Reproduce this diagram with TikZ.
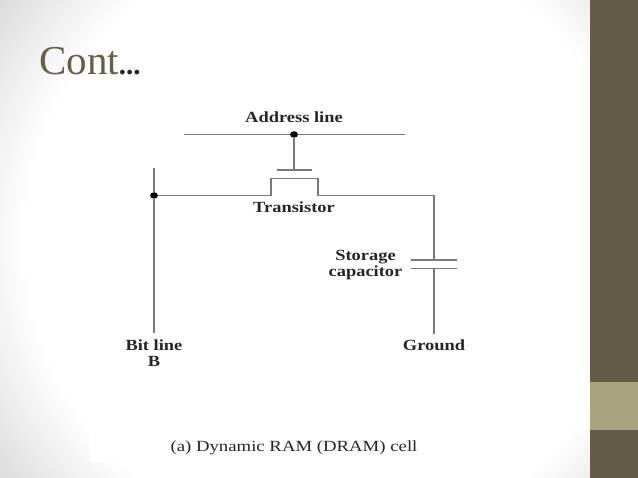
\documentclass[tikz,border=0pt]{standalone}
\usepackage{fontspec}
\setmainfont{Liberation Serif}
\usetikzlibrary{shapes.geometric}
\newfontfamily\labfont[FakeStretch=1.19,BoldFont={Liberation Serif Bold}]{Liberation Serif}
\newfontfamily\capfont[FakeStretch=1.21]{Liberation Serif}
\definecolor{panel}{HTML}{645C48}
\definecolor{band}{HTML}{A8A480}
\definecolor{wire}{HTML}{7A7A7A}
\definecolor{titlec}{HTML}{665F4D}
\definecolor{labelc}{HTML}{262626}
\pgfdeclareradialshading{slidebg}{\pgfpoint{0bp}{0bp}}{color(0bp)=(white); color(15.25bp)=(white); color(20.4bp)=(black!14); color(25bp)=(black!18); color(50bp)=(black!18)}
\tikzset{
  x=1pt,y=-1pt,
  conn/.style={draw=wire,line width=1.35pt},
  lab/.style={font=\labfont\fontsize{15.5}{17}\selectfont\bfseries,text=labelc,inner sep=0pt,anchor=center},
  junction/.style={ellipse,fill=black,inner sep=0pt,minimum width=8pt,minimum height=6.5pt}
}
\begin{document}
\begin{tikzpicture}
\useasboundingbox (0,0) rectangle (638,478);
\begin{scope}
\clip (0,0) rectangle (590,478);
\shade[shading=slidebg] (330,240) circle (500);
\fill[white] (90,100) rectangle (470,462);
\end{scope}
\fill[panel] (590,0) rectangle (638,478);
\fill[band] (590,382) rectangle (638,430);

\node[anchor=base west,inner sep=0pt,text=titlec,font=\fontsize{41}{44}\selectfont] (title) at (39,75) {Cont\textcolor{labelc}{\fontsize{29}{30}\selectfont\bfseries...}};

\coordinate (addrL) at (184,134.5);
\coordinate (addrR) at (405,134.5);
\node[junction] (addrdot) at (294,134.5) {};
\coordinate (gate) at (294,170);
\coordinate (gateL) at (277,170);
\coordinate (gateR) at (312,170);
\coordinate (bitT) at (154,168);
\node[junction] (bitdot) at (154,195.5) {};
\coordinate (bitB) at (154,333);
\coordinate (chLB) at (271,195.5);
\coordinate (chLT) at (271,178.5);
\coordinate (chRT) at (318,178.5);
\coordinate (chRB) at (318,195.5);
\coordinate (corner) at (434,195.5);
\coordinate (capT) at (434,260);
\coordinate (capB) at (434,268.5);
\coordinate (capTL) at (411,260);
\coordinate (capTR) at (457,260);
\coordinate (capBL) at (411,268.5);
\coordinate (capBR) at (457,268.5);
\coordinate (gnd) at (434,334);

\draw[conn] (addrL) -- (addrdot);
\draw[conn] (addrdot) -- (addrR);
\draw[conn] (addrdot) -- (gate);
\draw[conn] (gateL) -- (gateR);
\draw[conn] (bitT) -- (bitdot);
\draw[conn] (bitdot) -- (bitB);
\draw[conn] (bitdot) -- (chLB) -- (chLT) -- (chRT) -- (chRB) -- (corner) -- (capT);
\draw[conn] (capTL) -- (capTR);
\draw[conn] (capBL) -- (capBR);
\draw[conn] (capB) -- (gnd);

\node[lab] (addrlab) at (294,117) {Address line};
\node[lab] (translab) at (294,207.5) {Transistor};
\node[lab] (storlab) at (365.5,257) {Storage};
\node[lab] (caplab) at (365.5,273) {capacitor};
\node[lab] (bitlab) at (154,345.5) {Bit line};
\node[lab] (blab) at (154,361.5) {B};
\node[lab] (gndlab) at (434,345.5) {Ground};
\node[lab,font=\capfont\fontsize{15.5}{17}\selectfont] (caption) at (294,448) {(a) Dynamic RAM (DRAM) cell};
\end{tikzpicture}
\end{document}
